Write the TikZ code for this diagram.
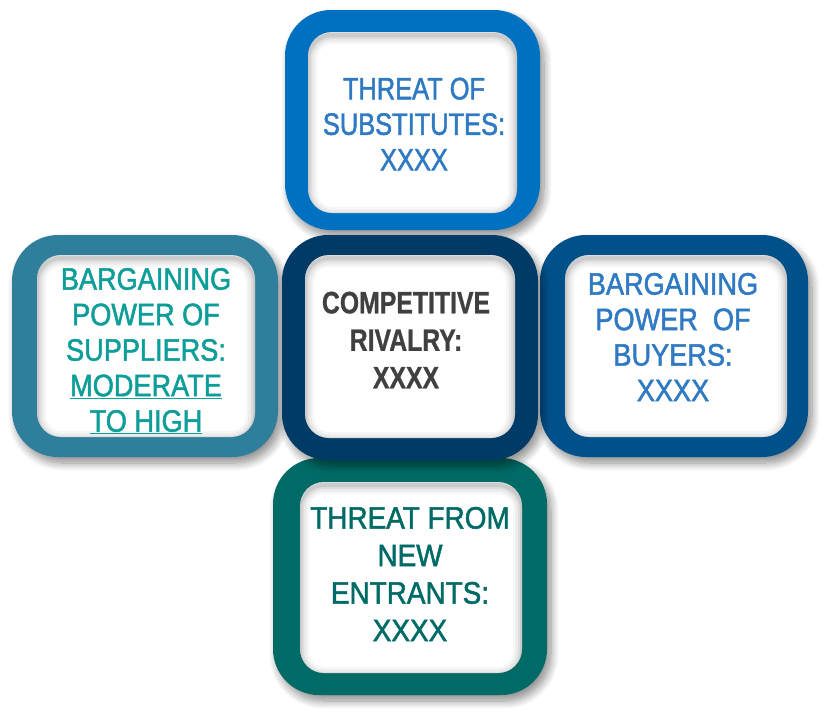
\documentclass[tikz,border=0pt]{standalone}
\usepackage{fontspec}
\setmainfont[FakeStretch=0.82]{Liberation Sans}
\newfontfamily\medfont[FakeStretch=0.82, FakeBold=1.6]{Liberation Sans}
\newfontfamily\sidefont[FakeStretch=0.875, FakeBold=1.6]{Liberation Sans}
\newfontfamily\botfont[FakeStretch=0.9, FakeBold=1.6]{Liberation Sans}
\newfontfamily\heavyfont[FakeStretch=0.8, FakeBold=0.8]{Liberation Sans Bold}
\usetikzlibrary{shadows.blur}
\definecolor{topc}{HTML}{0070C0}
\definecolor{leftc}{HTML}{2F7F9C}
\definecolor{centc}{HTML}{003A66}
\definecolor{rightc}{HTML}{00508A}
\definecolor{botc}{HTML}{006B66}
\definecolor{bluetxt}{HTML}{2F7AC2}
\definecolor{tealtxt}{HTML}{0E9E9A}
\definecolor{graytxt}{HTML}{404040}
\definecolor{bottxt}{HTML}{006B66}
\tikzset{
  outerbox/.style={rectangle, rounded corners=46pt, inner sep=0pt, outer sep=0pt,
    blur shadow={shadow xshift=4pt, shadow yshift=-6pt, shadow blur radius=8pt, shadow blur steps=10, shadow opacity=45}},
  innerbox/.style={rectangle, rounded corners=24pt, fill=white, inner sep=0pt, outer sep=0pt},
  label/.style={align=center, font=\fontsize{31}{35.5}\selectfont\medfont, inner sep=0pt}
}
\newcommand\innershade[1]{%
  \begin{scope}
    \clip[rounded corners=24pt] (#1.south west) rectangle (#1.north east);
    \foreach \w/\o in {18/0.035,13/0.045,8/0.06,4/0.08}
      \draw[black, opacity=\o, line width=\w pt, rounded corners=24pt]
        ([yshift=-3pt]#1.south west) rectangle ([yshift=-3pt]#1.north east);
  \end{scope}}
\begin{document}
\begin{tikzpicture}[x=1pt,y=-1pt]
\useasboundingbox (0,0) rectangle (832,721);
% left
\node[outerbox, fill=leftc, minimum width=266pt, minimum height=222pt] (left) at (145,346) {};
\node[innerbox, minimum width=218pt, minimum height=182pt] (leftin) at (146,346) {};
\innershade{leftin}
% right
\node[outerbox, fill=rightc, minimum width=268pt, minimum height=222pt] (right) at (674,346) {};
\node[innerbox, minimum width=222pt, minimum height=182pt] (rightin) at (676,346) {};
\innershade{rightin}
% top
\node[outerbox, fill=topc, minimum width=255pt, minimum height=220pt] (top) at (412.5,120) {};
\node[innerbox, minimum width=209pt, minimum height=181pt] (topin) at (412.5,122.5) {};
\innershade{topin}
% bottom
\node[outerbox, fill=botc, minimum width=274pt, minimum height=237pt] (bot) at (410,576.5) {};
\node[innerbox, minimum width=222pt, minimum height=191pt] (botin) at (411,577.5) {};
\innershade{botin}
% center
\node[outerbox, fill=centc, minimum width=256pt, minimum height=225pt] (cent) at (410,347.5) {};
\node[innerbox, minimum width=210pt, minimum height=183pt] (centin) at (410,346.5) {};
\innershade{centin}
% texts
\node[label, text=bluetxt] (toptext) at (414,124) {THREAT OF\\SUBSTITUTES:\\XXXX};
\node[label, text=tealtxt, font=\fontsize{31}{35.5}\selectfont\sidefont] (lefttext) at (146,351) {BARGAINING\\POWER OF\\SUPPLIERS:\\\underline{MODERATE}\\\underline{TO HIGH}};
\node[label, text=graytxt, font=\fontsize{31}{37.5}\selectfont\heavyfont] (centtext) at (406,340) {COMPETITIVE\\RIVALRY:\\XXXX};
\node[label, text=bluetxt, font=\fontsize{31}{35.5}\selectfont\sidefont] (righttext) at (673,337) {BARGAINING\\POWER\ \ OF\\BUYERS:\\XXXX};
\node[label, text=bottxt, font=\fontsize{31}{37.5}\selectfont\botfont] (bottext) at (410,574) {THREAT FROM\\NEW\\ENTRANTS:\\XXXX};
\end{tikzpicture}
\end{document}
